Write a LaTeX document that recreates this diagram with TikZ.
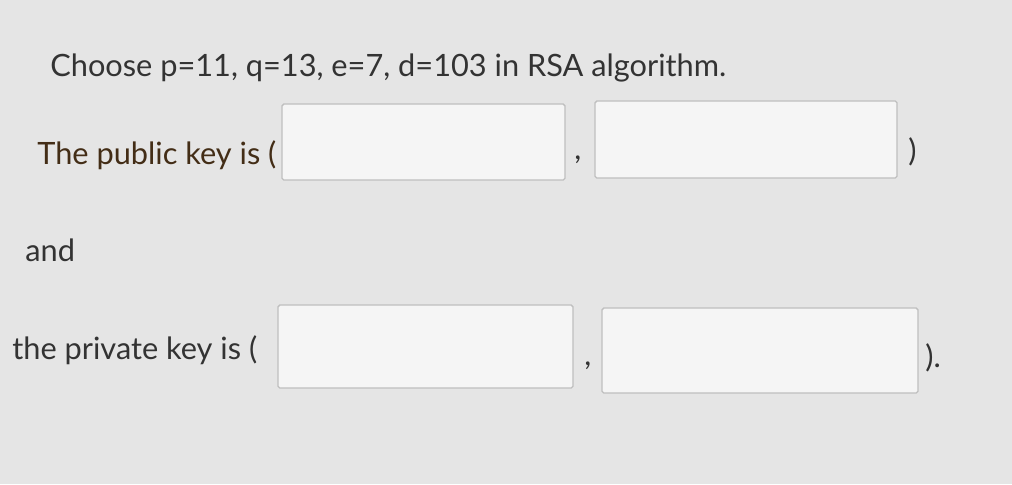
\documentclass[tikz,border=0pt]{standalone}
\usepackage{fontspec}
\setmainfont{Lato}
\begin{document}
\begin{tikzpicture}[x=0.02cm,y=-0.02cm,
  txt/.style={anchor=west,inner sep=0pt,font=\fontsize{17.5}{20}\selectfont,text=black!80},
  field/.style={draw=black!25,fill=white!96!black,line width=0.8pt,rounded corners=1pt}]
\path[fill=black!10] (0,0) rectangle (1012,484);
\useasboundingbox (0,0) rectangle (1012,484);
\node[txt] (title) at (50,68) {Choose p=11, q=13, e=7, d=103 in RSA algorithm.};
\node[txt,text=black!65!brown] (pub) at (37,155) {The public key is (};
\draw[field] (282,104) rectangle (565,180);
\node[txt] (c1) at (574,160) {,};
\draw[field] (595,101) rectangle (897,178);
\node[txt] (p1) at (908,152) {)};
\node[txt] (and) at (25,250) {and};
\node[txt] (priv) at (12,350) {the private key is (};
\draw[field] (278,305) rectangle (573,388);
\node[txt] (c2) at (584,366) {,};
\draw[field] (602,308) rectangle (918,393);
\node[txt] (p2) at (925,358) {).};
\end{tikzpicture}
\end{document}
